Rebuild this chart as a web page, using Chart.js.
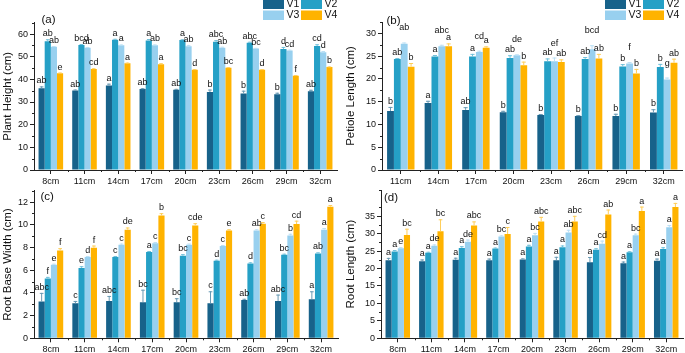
<!DOCTYPE html>
<html lang="en">
<head>
<meta charset="UTF-8" />
<title>Plant Height, Petiole Length, Root Base Width and Root Length</title>
<script src="https://cdn.jsdelivr.net/npm/chart.js"></script>
<style>
  html, body { margin: 0; padding: 0; background: #fff; }
  body { width: 685px; height: 353px; overflow: hidden; position: relative; }
  .panel { position: absolute; }
</style>
</head>
<body>
  <div class="panel"><canvas id="chartA"></canvas></div>
  <div class="panel"><canvas id="chartB"></canvas></div>
  <div class="panel"><canvas id="chartC"></canvas></div>
  <div class="panel"><canvas id="chartD"></canvas></div>

<script>
const FONT = '"Liberation Sans", Arial, sans-serif';
const seriesNames = ['V1', 'V2', 'V3', 'V4'];
const seriesColors = ['#17628a', '#25a0c6', '#98d0ef', '#ffb300'];

const depthCats = ['8cm', '11cm', '14cm', '17cm', '20cm', '23cm', '26cm', '29cm', '32cm'];
const petioleCats = ['11cm', '14cm', '17cm', '20cm', '23cm', '26cm', '29cm', '32cm'];

// (a) plant height, cm  (rows = V1..V4)
const heightMean = [
  [36.1, 35.1, 37.3, 35.7, 35.4, 34.4, 33.8, 33.4, 34.8],
  [56.8, 55.2, 57.5, 57.2, 57.4, 56.6, 56.2, 53.4, 54.7],
  [54.4, 54.0, 55.0, 55.0, 54.6, 54.0, 53.6, 52.7, 52.0],
  [42.7, 44.6, 47.1, 46.7, 44.2, 45.1, 44.2, 41.6, 45.4]
];
const heightErr = [
  [0.8, 0.4, 0.8, 0.4, 0.4, 1.1, 1.2, 0.7, 0.6],
  [0.9, 0.4, 0.4, 0.6, 0.3, 0.7, 0.4, 0.9, 0.8],
  [0.3, 0.3, 0.4, 0.4, 0.6, 0.4, 0.3, 0.4, 0.5],
  [0.3, 0.3, 0.3, 0.4, 0.3, 0.3, 0.3, 0.3, 0.3]
];
const heightLetters = [
  ['ab', 'ab', 'a', 'ab', 'ab', 'b', 'b', 'b', 'ab'],
  ['ab', 'bcd', 'a', 'a', 'a', 'abc', 'abc', 'd', 'cd'],
  ['ab', 'ab', 'a', 'ab', 'ab', 'ab', 'bc', 'cd', 'd'],
  ['e', 'cd', 'a', 'a', 'd', 'bc', 'd', 'f', 'b']
];

// (b) petiole length, cm
const petioleMean = [
  [12.95, 14.7, 13.2, 12.7, 12.1, 11.85, 11.85, 12.65],
  [24.4, 24.95, 24.9, 24.6, 23.9, 24.4, 22.75, 22.6],
  [27.7, 27.2, 25.9, 25.2, 23.9, 26.5, 23.4, 19.9],
  [22.7, 27.2, 26.85, 23.0, 23.7, 24.5, 21.2, 23.55]
];
const petioleErr = [
  [0.9, 0.5, 0.6, 0.3, 0.2, 0.2, 0.5, 0.7],
  [0.2, 0.3, 0.6, 0.6, 0.6, 0.4, 0.5, 0.7],
  [0.3, 0.3, 0.3, 0.2, 0.8, 0.9, 0.3, 0.4],
  [0.8, 0.6, 0.3, 0.8, 0.6, 1.0, 1.0, 0.9]
];
const petioleLetters = [
  ['b', 'a', 'ab', 'b', 'b', 'b', 'b', 'b'],
  ['ab', 'a', 'a', 'ab', 'ab', 'ab', 'b', 'b'],
  ['ab', 'abc', 'cd', 'de', 'ef', 'bcd', 'f', 'g'],
  ['b', 'a', 'a', 'b', 'ab', 'ab', 'b', 'ab']
];

// (c) root base width, cm
const baseMean = [
  [3.24, 3.09, 3.29, 3.18, 3.18, 3.09, 3.38, 3.29, 3.44],
  [5.26, 6.2, 7.15, 7.59, 7.26, 6.82, 6.59, 7.35, 7.47],
  [6.47, 7.15, 8.24, 8.38, 8.24, 8.12, 9.5, 9.06, 9.56],
  [7.74, 7.97, 9.56, 10.82, 9.94, 9.5, 10.09, 10.06, 11.59]
];
const baseErr = [
  [0.76, 0.2, 0.44, 1.1, 0.35, 1.05, 0.1, 0.56, 0.7],
  [0.15, 0.15, 0.1, 0.1, 0.15, 0.1, 0.1, 0.1, 0.1],
  [0.1, 0.1, 0.1, 0.1, 0.1, 0.1, 0.1, 0.15, 0.15],
  [0.2, 0.2, 0.2, 0.2, 0.2, 0.1, 0.15, 0.3, 0.15]
];
const baseLetters = [
  ['abc', 'c', 'abc', 'bc', 'bc', 'c', 'ab', 'abc', 'a'],
  ['f', 'e', 'c', 'a', 'bc', 'd', 'd', 'bc', 'ab'],
  ['e', 'd', 'c', 'c', 'c', 'c', 'ab', 'b', 'a'],
  ['f', 'f', 'de', 'b', 'cde', 'e', 'c', 'cd', 'a']
];

// (d) root length, cm
const rootMean = [
  [22.35, 22.1, 22.5, 22.35, 22.6, 22.35, 21.8, 21.5, 22.25],
  [24.9, 24.5, 25.9, 25.7, 26.3, 26.1, 25.4, 24.65, 25.6],
  [25.8, 26.5, 27.7, 29.2, 29.5, 30.3, 27.1, 29.5, 31.85],
  [29.6, 30.7, 32.3, 29.9, 33.5, 33.5, 35.5, 36.45, 37.6]
];
const rootErr = [
  [0.7, 0.5, 0.6, 0.5, 0.3, 1.0, 1.5, 0.5, 0.6],
  [0.4, 0.3, 0.5, 0.3, 0.5, 0.5, 0.4, 0.3, 0.5],
  [0.3, 0.4, 0.6, 0.3, 0.7, 0.8, 0.9, 0.5, 0.6],
  [1.8, 3.4, 1.2, 2.0, 1.3, 1.6, 1.4, 1.3, 1.2]
];
const rootLetters = [
  ['a', 'a', 'a', 'a', 'a', 'a', 'a', 'a', 'a'],
  ['a', 'a', 'a', 'a', 'a', 'a', 'a', 'a', 'a'],
  ['e', 'de', 'de', 'bc', 'bc', 'ab', 'cd', 'bc', 'a'],
  ['bc', 'bc', 'abc', 'c', 'abc', 'abc', 'ab', 'a', 'a']
];

function lighten(hex, k) {
  const n = parseInt(hex.slice(1), 16);
  const m = c => Math.round(c + (255 - c) * k);
  return `rgb(${m(n >> 16)},${m((n >> 8) & 255)},${m(n & 255)})`;
}

// error bars, significance letters, minor ticks, panel tag and the 2x2 legend
const decor = {
  id: 'decor',
  afterDatasetsDraw(chart, args, o) {
    const ctx = chart.ctx, ys = chart.scales.y;
    ctx.save();
    ctx.lineWidth = 1;
    ctx.font = `9px ${FONT}`;
    ctx.textAlign = 'center';
    ctx.textBaseline = 'bottom';
    chart.data.datasets.forEach((ds, i) => {
      chart.getDatasetMeta(i).data.forEach((bar, j) => {
        const top = ys.getPixelForValue(ds.data[j] + ds.err[j]);
        const cap = bar.width * 0.3;
        ctx.strokeStyle = lighten(seriesColors[i], 0.35);
        ctx.beginPath();
        ctx.moveTo(bar.x, bar.y);
        ctx.lineTo(bar.x, top);
        ctx.moveTo(bar.x - cap, top + 0.5);
        ctx.lineTo(bar.x + cap, top + 0.5);
        ctx.stroke();
        ctx.fillStyle = '#111';
        ctx.fillText(ds.letters[j], bar.x, top - 1 - o.lift[i]);
      });
    });
    ctx.restore();
  },
  afterDraw(chart, args, o) {
    const ctx = chart.ctx, a = chart.chartArea;
    const xs = chart.scales.x, ys = chart.scales.y;
    ctx.save();
    ctx.strokeStyle = '#222';
    ctx.lineWidth = 1;
    ctx.beginPath();
    for (let v = o.step / 2; v <= ys.max + 1e-6; v += o.step) {
      const py = Math.round(ys.getPixelForValue(v)) + 0.5;
      ctx.moveTo(a.left - 2, py);
      ctx.lineTo(a.left, py);
    }
    for (let k = 1; k < xs.ticks.length; k++) {
      const px = Math.round(xs.getPixelForValue(k - 0.5)) + 0.5;
      ctx.moveTo(px, a.bottom);
      ctx.lineTo(px, a.bottom + 2);
    }
    ctx.stroke();

    ctx.fillStyle = '#111';
    ctx.textAlign = 'left';
    ctx.textBaseline = 'middle';
    ctx.font = `11.5px ${FONT}`;
    ctx.fillText(o.tag, o.tagAt[0] - o.box[0], o.tagAt[1] - o.box[1]);

    if (o.legendAt) {
      ctx.font = `10.5px ${FONT}`;
      seriesNames.forEach((name, i) => {
        const lx = o.legendAt[0] - o.box[0] + (i % 2) * 38;
        const ly = o.legendAt[1] - o.box[1] + Math.floor(i / 2) * 11;
        ctx.fillStyle = seriesColors[i];
        ctx.fillRect(lx, ly, 21, 9.5);
        ctx.fillStyle = '#111';
        ctx.fillText(name, lx + 23.5, ly + 5);
      });
    }
    ctx.restore();
  }
};

function buildPanel(id, cfg) {
  const [bx, by, bw, bh] = cfg.box;
  const [pl, pr, pt, pb] = cfg.plot;
  const canvas = document.getElementById(id);
  Object.assign(canvas.parentNode.style, {
    left: bx + 'px', top: by + 'px', width: bw + 'px', height: bh + 'px'
  });
  const tickFont = { size: 9, family: FONT };
  const axisGrid = { drawOnChartArea: false, tickLength: 4, color: '#222', lineWidth: 1 };
  return new Chart(canvas, {
    type: 'bar',
    data: {
      labels: cfg.labels,
      datasets: seriesNames.map((name, i) => ({
        label: name,
        data: cfg.mean[i],
        err: cfg.err[i],
        letters: cfg.letters[i],
        backgroundColor: seriesColors[i],
        borderWidth: 0,
        categoryPercentage: 0.73,
        barPercentage: 1
      }))
    },
    options: {
      responsive: true,
      maintainAspectRatio: false,
      animation: false,
      layout: { padding: { top: pt - by, right: bx + bw - pr, bottom: 0, left: 0 } },
      plugins: {
        legend: { display: false },
        tooltip: { enabled: false },
        decor: {
          box: cfg.box, step: cfg.step, tag: cfg.tag, tagAt: cfg.tagAt,
          legendAt: cfg.legendAt, lift: cfg.lift || [0, 0, 0, 0]
        }
      },
      scales: {
        x: {
          grid: Object.assign({ offset: false }, axisGrid),
          border: { color: '#222', width: 1 },
          ticks: { font: tickFont, color: '#111', padding: 2, autoSkip: false, maxRotation: 0 },
          afterFit: s => { s.height = by + bh - pb; }
        },
        y: {
          min: 0,
          max: cfg.yMax,
          grid: axisGrid,
          border: { color: '#222', width: 1 },
          ticks: { stepSize: cfg.step, font: tickFont, color: '#111', padding: 2 },
          afterBuildTicks: s => {
            s.ticks = s.ticks.filter(t => Math.abs(t.value / cfg.step - Math.round(t.value / cfg.step)) < 1e-6);
          },
          title: {
            display: true, text: cfg.yTitle, color: '#111',
            font: { size: 11.5, family: FONT }, padding: { top: 1, bottom: 0 }
          },
          afterFit: s => { s.width = pl - bx; }
        }
      }
    },
    plugins: [decor]
  });
}

buildPanel('chartA', {
  box: [0, 0, 343, 195], plot: [34, 337, 22.7, 170],
  labels: depthCats, mean: heightMean, err: heightErr, letters: heightLetters,
  yMax: 65, step: 10, yTitle: 'Plant Height (cm)',
  tag: '(a)', tagAt: [41.5, 20], legendAt: [263, -0.5]
});
buildPanel('chartB', {
  box: [343, 0, 342, 195], plot: [382, 682.5, 22, 170],
  labels: petioleCats, mean: petioleMean, err: petioleErr, letters: petioleLetters,
  yMax: 32.5, step: 5, yTitle: 'Petiole Length (cm)',
  tag: '(b)', tagAt: [386.5, 21], legendAt: [605, -0.5], lift: [0, 0, 9, 0]
});
buildPanel('chartC', {
  box: [0, 178, 343, 190], plot: [34, 338, 190.7, 338.3],
  labels: depthCats, mean: baseMean, err: baseErr, letters: baseLetters,
  yMax: 13, step: 2, yTitle: 'Root Base Width (cm)',
  tag: '(c)', tagAt: [40.5, 197]
});
buildPanel('chartD', {
  box: [343, 178, 342, 190], plot: [381, 683, 190, 338.3],
  labels: depthCats, mean: rootMean, err: rootErr, letters: rootLetters,
  yMax: 42.5, step: 5, yTitle: 'Root Length (cm)',
  tag: '(d)', tagAt: [384, 198]
});
</script>
</body>
</html>
